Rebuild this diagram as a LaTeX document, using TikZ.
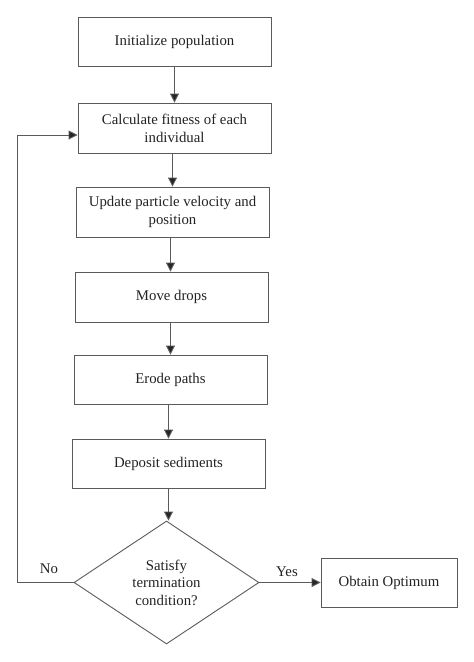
\documentclass[tikz,border=0pt]{standalone}
\usepackage{fontspec}
\setmainfont{Liberation Serif}
\usetikzlibrary{shapes.geometric,arrows.meta}
\definecolor{linec}{HTML}{5A5A5A}
\definecolor{textc}{HTML}{222222}
\tikzset{
  box/.style={draw=linec, line width=0.9pt, rectangle, minimum width=193pt, minimum height=49pt, inner sep=2pt, align=center, text=textc, font=\fontsize{14.8}{18}\selectfont},
  dia/.style={draw=linec, line width=0.9pt, diamond, minimum width=185pt, minimum height=123pt, inner sep=0pt, align=center, text=textc, font=\fontsize{14.8}{17.5}\selectfont},
  lbl/.style={text=textc, font=\fontsize{14.8}{16}\selectfont},
  arr/.style={draw=linec, line width=0.9pt, -{Triangle[length=9pt,width=9pt,fill=black!85]}}
}
\begin{document}
\begin{tikzpicture}[x=1pt,y=-1pt]
\useasboundingbox (0,0) rectangle (474,662);
\node[box] (b1) at (174.5,41.5) {Initialize population};
\node[box, minimum height=50pt] (b2) at (174.5,128) {Calculate fitness of each\\individual};
\node[box, minimum height=50pt] (b3) at (172.5,212) {Update particle velocity and\\position};
\node[box, minimum height=50pt] (b4) at (171.5,297) {Move drops};
\node[box] (b5) at (170.5,379.5) {Erode paths};
\node[box] (b6) at (168.5,463.5) {Deposit sediments};
\node[dia] (d) at (166.5,582.5) {Satisfy\\termination\\condition?};
\node[box, minimum width=136pt] (opt) at (389,582.5) {Obtain Optimum};
\coordinate (lp) at (17,582.5);
\draw[arr] (b1.south) -- (b1.south |- b2.north);
\draw[arr] ([xshift=-2pt]b2.south) -- ([xshift=-2pt]b2.south |- b3.north);
\draw[arr] ([xshift=-2pt]b3.south) -- ([xshift=-2pt]b3.south |- b4.north);
\draw[arr] ([xshift=-1pt]b4.south) -- ([xshift=-1pt]b4.south |- b5.north);
\draw[arr] ([xshift=-2pt]b5.south) -- ([xshift=-2pt]b5.south |- b6.north);
\draw[arr] (b6.south) -- (b6.south |- d.north);
\draw[arr] (d.east) -- (opt.west);
\draw[arr] (d.west) -- (lp) |- ([yshift=-7pt]b2.west);
\node[lbl] (no) at (49,569) {No};
\node[lbl] (yes) at (287,572) {Yes};
\end{tikzpicture}
\end{document}
